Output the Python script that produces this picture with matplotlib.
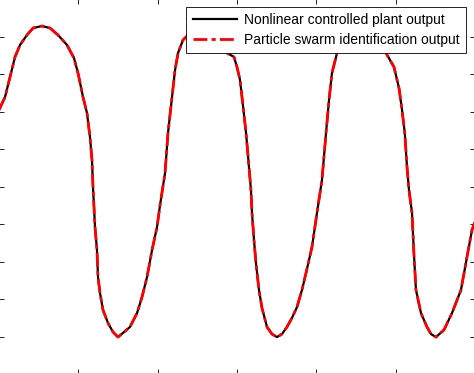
import numpy as np
import matplotlib.pyplot as plt

plt.rcParams['font.family'] = ['Liberation Sans', 'DejaVu Sans']

# sample index and outputs
k = [0, 7.6, 13.9, 20.2, 26.5, 35.3, 42.9, 54.2, 64.3, 74.4, 85.7, 94.5,
     99.6, 105.9, 110.9, 114.7, 117.2, 118.5, 121, 123.5, 124.8, 127.3,
     131.1, 137.4, 143.7, 150, 156.3, 165.1, 174, 180.3, 186.6, 192.9,
     199.2, 203, 209.3, 213, 218.1, 221.9, 225.7, 231.9,
     240.8, 249.6, 259.7, 269.8, 278.6,
     287.4, 296.2, 300, 303.8, 306.3, 311.4, 315.1, 317.6, 318.9, 321.4,
     323.9, 327.7, 331.5, 337.8, 344.1, 350.4, 356.7, 363, 369.3, 375.6,
     381.9, 387, 394.5, 400.8, 407.1, 412.2, 416, 419.7, 426.1,
     436.1, 446.2, 456.3, 466.4, 476.4, 482.7,
     487.8, 497.9, 504.2, 508, 511.5, 514.3, 516.8, 520.6, 523.1, 525.6,
     531.9, 539.5, 544.5, 550.8, 560.9, 571, 582.3, 589.9, 596.2, 600]
y_plant = [0.408, 0.477, 0.584, 0.691, 0.755, 0.808, 0.845, 0.856, 0.845,
           0.808, 0.755, 0.685, 0.605, 0.477, 0.392, 0.264, 0.141, -0.003,
           -0.216, -0.339, -0.483, -0.568, -0.659, -0.728, -0.776, -0.803,
           -0.781, -0.749, -0.675, -0.589, -0.483, -0.339, -0.216, -0.099,
           0.072, 0.285, 0.477, 0.621, 0.712, 0.781,
           0.819, 0.845, 0.851, 0.829, 0.781,
           0.712, 0.691, 0.637, 0.568, 0.477, 0.285, 0.104, -0.019, -0.141,
           -0.285, -0.408, -0.552, -0.648, -0.749, -0.787, -0.803, -0.787,
           -0.749, -0.701, -0.643, -0.552, -0.461, -0.323, -0.141, 0.035,
           0.285, 0.461, 0.605, 0.712,
           0.819, 0.845, 0.851, 0.835, 0.792, 0.749,
           0.712, 0.637, 0.525, 0.408, 0.285, 0.104, -0.019, -0.141, -0.365,
           -0.552, -0.675, -0.749, -0.787, -0.803, -0.765, -0.675, -0.552,
           -0.376, -0.232, -0.19]
y_pso = y_plant

W, H = 474, 373
fig = plt.figure(figsize=(W / 100, H / 100), dpi=100)
ax = fig.add_axes([-1 / W, -1 / H, (W + 2) / W, (H + 2) / H])

ax.plot(k, y_plant, color='black', lw=1.6, label='Nonlinear controlled plant output')
ax.plot(k, y_pso, color='red', lw=2.0, ls=(0, (5, 1.5, 1.5, 1.5)),
        label='Particle swarm identification output')

ax.set_xlim(0, 600)
ax.set_ylim(-1, 1)
ax.set_xticks(np.arange(0, 601, 100))
ax.set_yticks(np.arange(-1, 1.01, 0.2))
ax.tick_params(direction='in', length=3.5, width=0.6, top=True, right=True,
               labelbottom=False, labelleft=False)
for s in ax.spines.values():
    s.set_linewidth(0.6)

leg = ax.legend(loc='upper right', bbox_to_anchor=(466 / W, 1 - 7 / H),
                bbox_transform=fig.transFigure, borderaxespad=0,
                fontsize=10, fancybox=False, framealpha=1, edgecolor='black',
                handlelength=3.2, handletextpad=0.5, borderpad=0.45,
                labelspacing=0.42)
leg.get_frame().set_linewidth(0.6)

fig.savefig('out.png', dpi=100)
